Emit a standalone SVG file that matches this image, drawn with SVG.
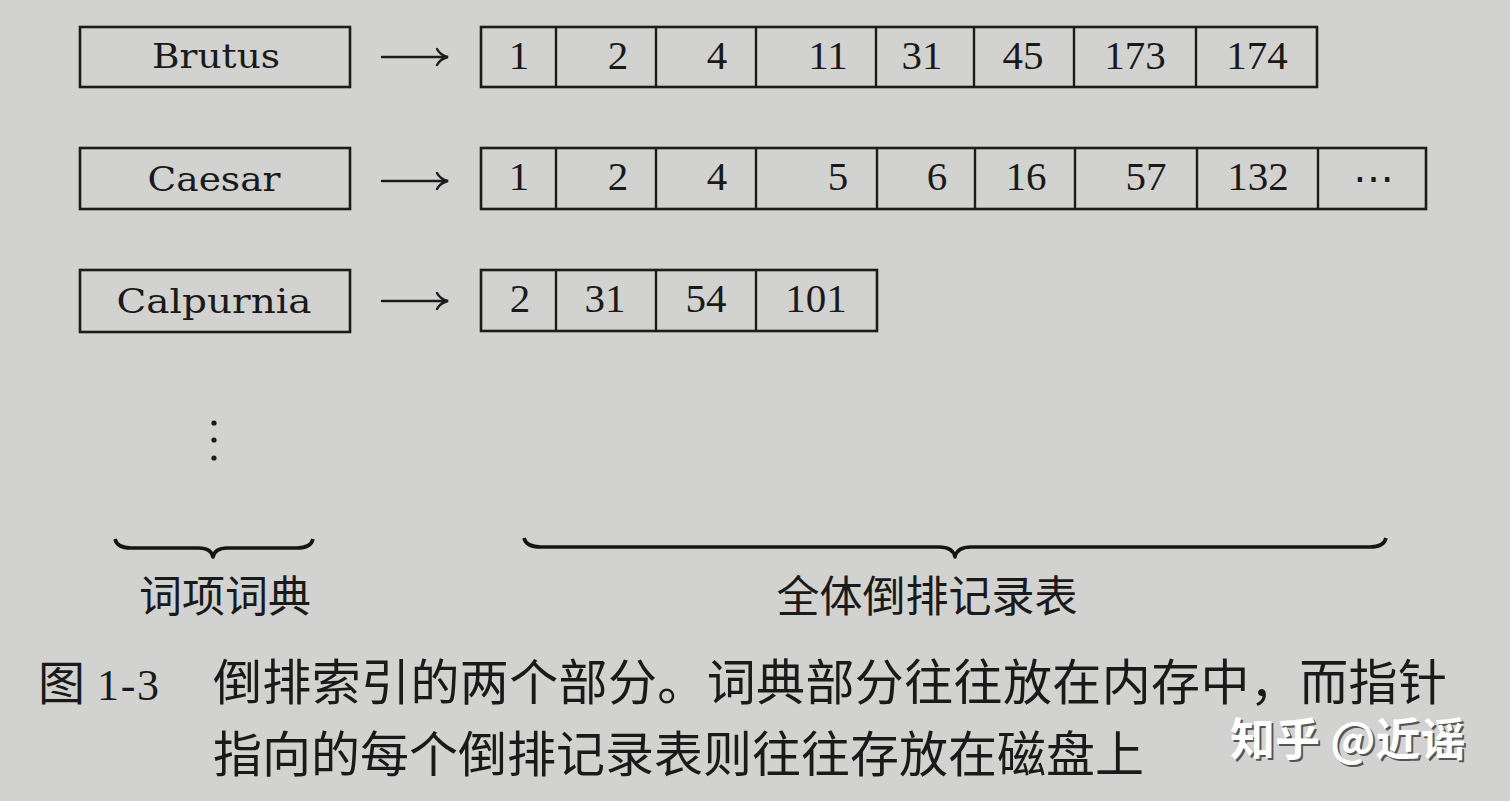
<svg xmlns="http://www.w3.org/2000/svg" width="1510" height="801" viewBox="0 0 1510 801">
<style>
.bg{fill:#d2d2d0}
.box{fill:none;stroke:#1c1c1c;stroke-width:2.6}
.sep{stroke:#1c1c1c;stroke-width:2.4}
.term{font-family:"DejaVu Serif","Liberation Serif",serif;font-size:34px;fill:#1a1a1a;text-anchor:middle}
.num{font-family:"Liberation Serif",serif;font-size:41px;fill:#1a1a1a;text-anchor:middle}
.arr{fill:none;stroke:#1c1c1c;stroke-width:2.4;stroke-linecap:round}
.brace{fill:none;stroke:#151515;stroke-width:3.6;stroke-linejoin:round}
.cjk{font-family:"Liberation Serif","Noto Sans CJK SC",serif;fill:#1a1a1a}
.wm{font-family:"Noto Sans CJK SC",sans-serif;font-weight:bold;font-size:45px;fill:#ffffff}
.wms{font-family:"Noto Sans CJK SC",sans-serif;font-weight:bold;font-size:45px;fill:#555555}
</style>
<rect class="bg" x="0" y="0" width="1510" height="801"/>

<g id="term-brutus">
<rect class="box" x="80" y="27" width="270" height="60"/>
<text class="term" x="216" y="68" textLength="128" lengthAdjust="spacingAndGlyphs">Brutus</text>
</g>
<g id="term-caesar">
<rect class="box" x="80" y="148" width="270" height="61"/>
<text class="term" x="214" y="191" textLength="133" lengthAdjust="spacingAndGlyphs">Caesar</text>
</g>
<g id="term-calpurnia">
<rect class="box" x="80" y="270" width="270" height="62"/>
<text class="term" x="214" y="313" textLength="195" lengthAdjust="spacingAndGlyphs">Calpurnia</text>
</g>

<g id="postings-brutus">
<rect class="box" x="481" y="27" width="836" height="60"/>
<line class="sep" x1="556" y1="27" x2="556" y2="87"/>
<line class="sep" x1="656" y1="27" x2="656" y2="87"/>
<line class="sep" x1="756" y1="27" x2="756" y2="87"/>
<line class="sep" x1="876" y1="27" x2="876" y2="87"/>
<line class="sep" x1="974" y1="27" x2="974" y2="87"/>
<line class="sep" x1="1074" y1="27" x2="1074" y2="87"/>
<line class="sep" x1="1196" y1="27" x2="1196" y2="87"/>
<text class="num" x="519" y="69">1</text>
<text class="num" x="618" y="69">2</text>
<text class="num" x="717" y="69">4</text>
<text class="num" x="828" y="69">11</text>
<text class="num" x="922" y="69">31</text>
<text class="num" x="1023" y="69">45</text>
<text class="num" x="1135" y="69">173</text>
<text class="num" x="1257" y="69">174</text>
</g>

<g id="postings-caesar">
<rect class="box" x="481" y="148" width="945" height="61"/>
<line class="sep" x1="556" y1="148" x2="556" y2="209"/>
<line class="sep" x1="656" y1="148" x2="656" y2="209"/>
<line class="sep" x1="756" y1="148" x2="756" y2="209"/>
<line class="sep" x1="877" y1="148" x2="877" y2="209"/>
<line class="sep" x1="975" y1="148" x2="975" y2="209"/>
<line class="sep" x1="1075" y1="148" x2="1075" y2="209"/>
<line class="sep" x1="1197" y1="148" x2="1197" y2="209"/>
<line class="sep" x1="1318" y1="148" x2="1318" y2="209"/>
<text class="num" x="519" y="190">1</text>
<text class="num" x="618" y="190">2</text>
<text class="num" x="717" y="190">4</text>
<text class="num" x="838" y="190">5</text>
<text class="num" x="937" y="190">6</text>
<text class="num" x="1026" y="190">16</text>
<text class="num" x="1146" y="190">57</text>
<text class="num" x="1258" y="190">132</text>
<text class="num" x="1373" y="193">⋯</text>
</g>

<g id="postings-calpurnia">
<rect class="box" x="481" y="270" width="396" height="61"/>
<line class="sep" x1="556" y1="270" x2="556" y2="331"/>
<line class="sep" x1="656" y1="270" x2="656" y2="331"/>
<line class="sep" x1="756" y1="270" x2="756" y2="331"/>
<text class="num" x="520" y="312">2</text>
<text class="num" x="605" y="312">31</text>
<text class="num" x="706" y="312">54</text>
<text class="num" x="816" y="312">101</text>
</g>

<g id="connectors">
<path class="arr" d="M382,57 L447,57 M437,49 Q440,55 448,57 Q440,59 437,65"/>
<path class="arr" d="M382,181 L447,181 M437,173 Q440,179 448,181 Q440,183 437,189"/>
<path class="arr" d="M382,301 L447,301 M437,293 Q440,299 448,301 Q440,303 437,309"/>
</g>

<g id="vdots" fill="#1a1a1a">
<circle cx="214" cy="423" r="2.6"/>
<circle cx="214" cy="440" r="2.6"/>
<circle cx="214" cy="458" r="2.6"/>
</g>

<g id="dictionary-label">
<path class="brace" d="M115,539 Q117,548 131,548 L199,548 Q211,548 213,557 Q215,548 227,548 L297,548 Q311,548 313,539"/>
<text class="cjk" x="225" y="612" font-size="43" text-anchor="middle">词项词典</text>
</g>

<g id="postings-label">
<path class="brace" d="M524,538 Q526,547 541,547 L939,547 Q953,547 955,557 Q957,547 971,547 L1370,547 Q1384,547 1386,538"/>
<text class="cjk" x="927" y="612" font-size="43" text-anchor="middle">全体倒排记录表</text>
</g>

<g id="caption">
<text class="cjk" x="38" y="700" font-size="47">图</text>
<text class="cjk" x="97" y="700" font-size="44" font-family="Liberation Serif,serif" textLength="62">1-3</text>
<text class="cjk" x="213" y="700" font-size="49" textLength="1234">倒排索引的两个部分。词典部分往往放在内存中，而指针</text>
<text class="cjk" x="213" y="772" font-size="49">指向的每个倒排记录表则往往存放在磁盘上</text>
</g>

<g id="watermark">
<text class="wms" x="1232" y="758">知乎 @近谣</text>
<text class="wm" x="1230" y="756">知乎 @近谣</text>
</g>
</svg>
